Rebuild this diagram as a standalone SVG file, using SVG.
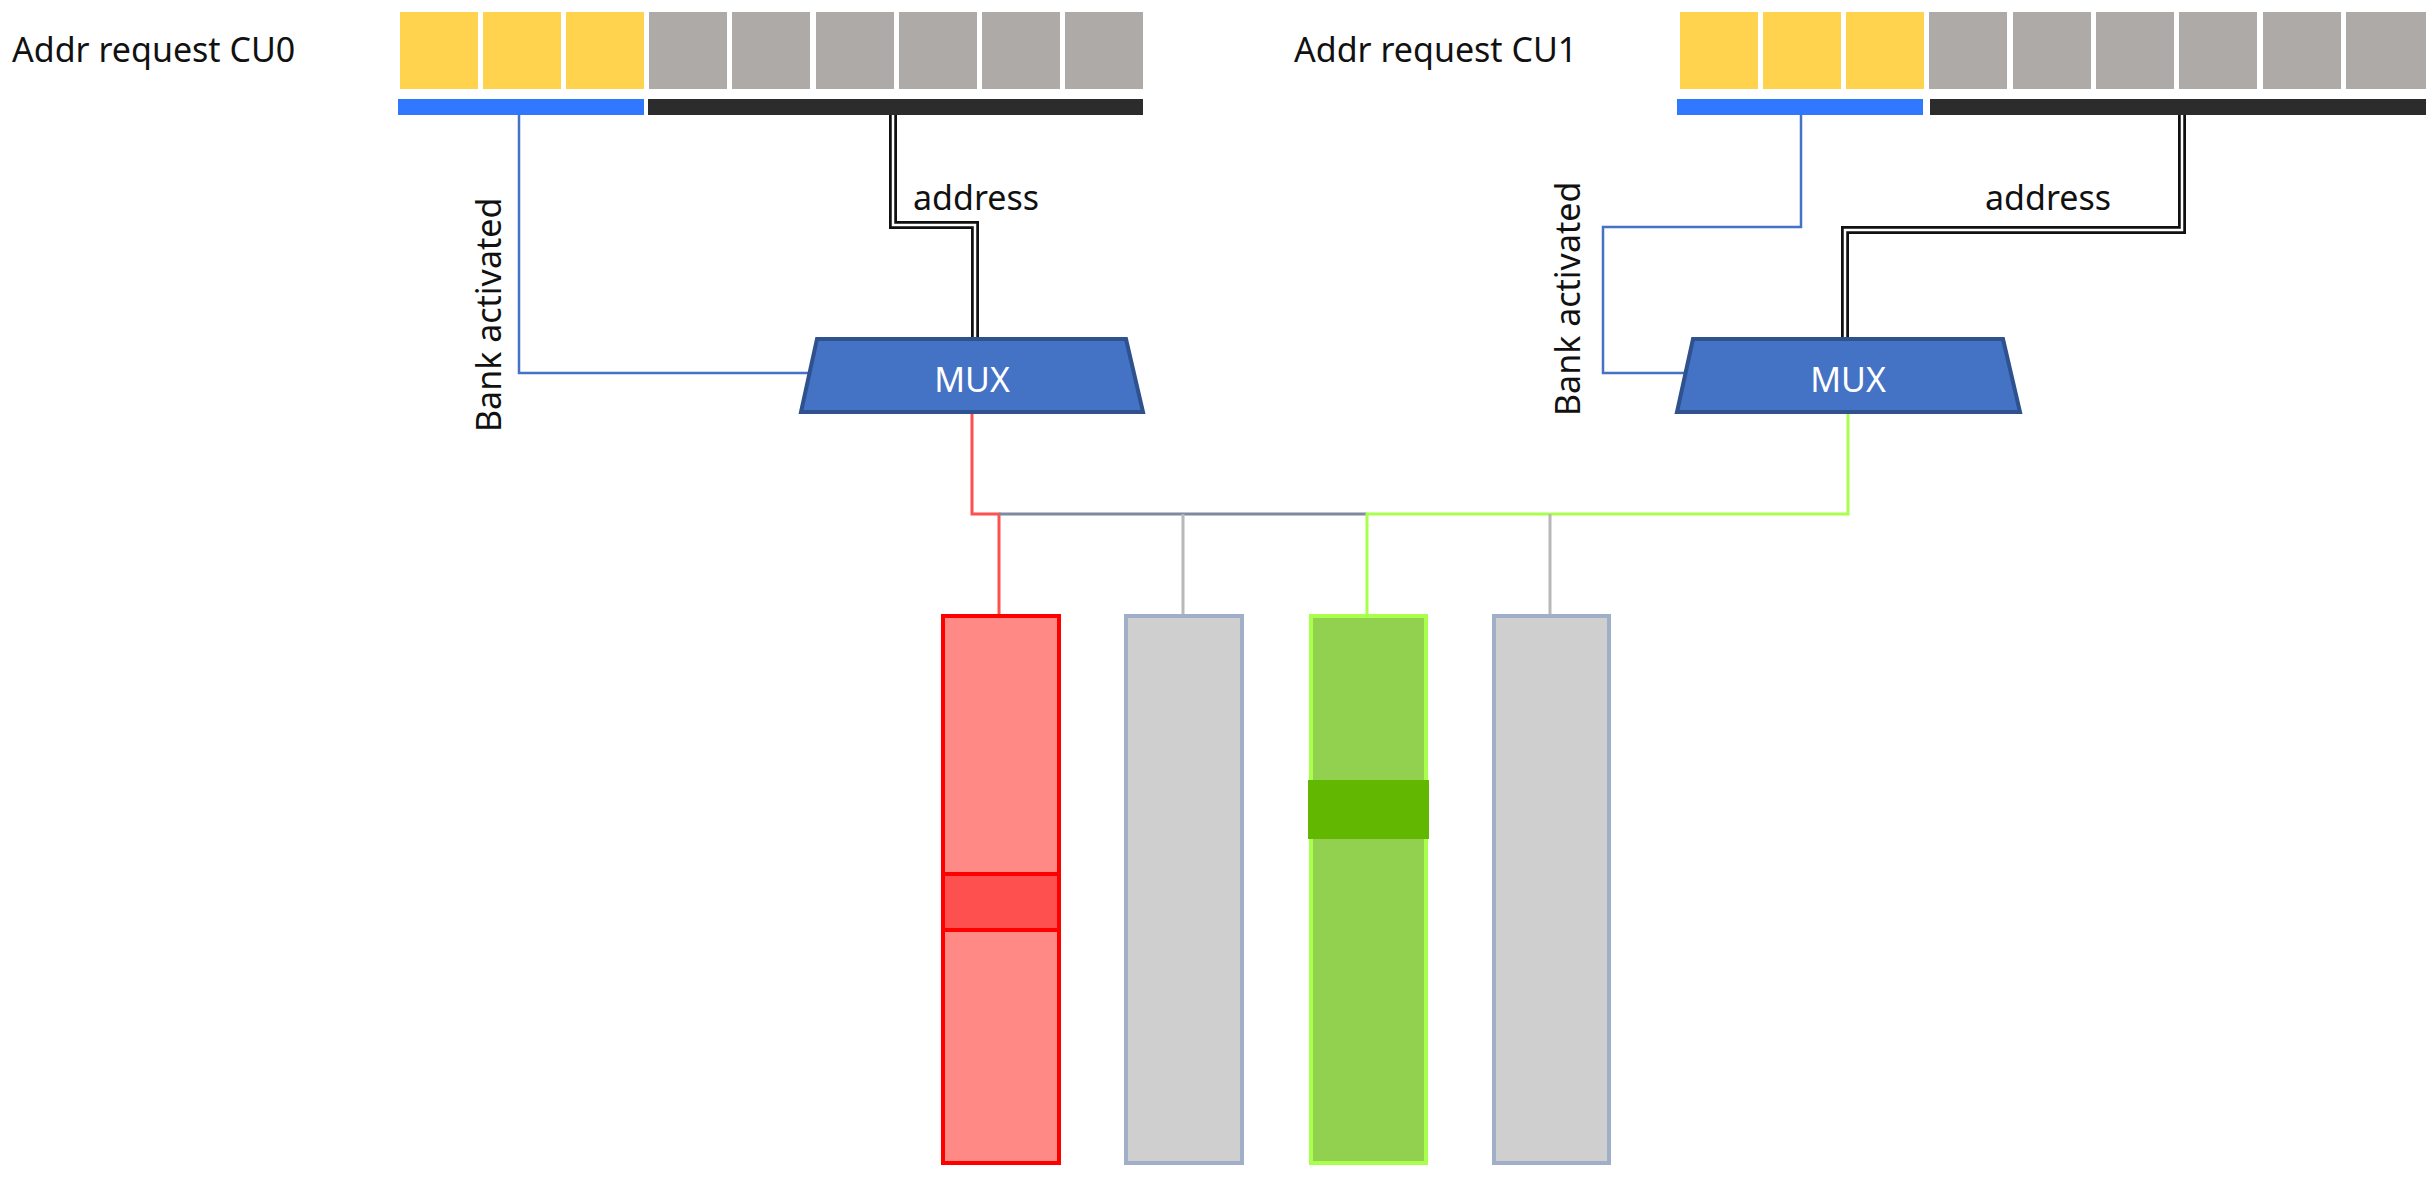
<svg xmlns="http://www.w3.org/2000/svg" width="2435" height="1184" viewBox="0 0 2435 1184">
<style>
.t{font-family:"Noto Sans","Liberation Sans",sans-serif;font-size:34px;fill:#111}
.y{fill:#FFD34D}.g{fill:#AEAAA8}
.blu{fill:none;stroke:#4472C4;stroke-width:2.5}
.ao{fill:none;stroke:#111;stroke-width:8}
.ai{fill:none;stroke:#fff;stroke-width:2.5}
.mux{fill:#4472C4;stroke:#2F528F;stroke-width:4}
.mt{font-family:"Noto Sans","Liberation Sans",sans-serif;font-size:34px;fill:#fff;text-anchor:middle}
.bank{fill:#CFCFCF;stroke:#9FAFC8;stroke-width:4}
</style>
<rect width="2435" height="1184" fill="#fff"/>
<g id="cu0">
<text class="t" x="12" y="62">Addr request CU0</text>
<rect class="y" x="400" y="12" width="78" height="77"/><rect class="y" x="483" y="12" width="78" height="77"/><rect class="y" x="566" y="12" width="78" height="77"/>
<rect class="g" x="649" y="12" width="78" height="77"/><rect class="g" x="732" y="12" width="78" height="77"/><rect class="g" x="816" y="12" width="78" height="77"/><rect class="g" x="899" y="12" width="78" height="77"/><rect class="g" x="982" y="12" width="78" height="77"/><rect class="g" x="1065" y="12" width="78" height="77"/>
<rect x="398" y="99" width="246" height="16" fill="#2F78FF"/>
<rect x="648" y="99" width="495" height="16" fill="#2C2C2C"/>
</g>
<g id="cu1">
<text class="t" x="1294" y="62">Addr request CU1</text>
<rect class="y" x="1680" y="12" width="78" height="77"/><rect class="y" x="1763" y="12" width="78" height="77"/><rect class="y" x="1846" y="12" width="78" height="77"/>
<rect class="g" x="1929" y="12" width="78" height="77"/><rect class="g" x="2013" y="12" width="78" height="77"/><rect class="g" x="2096" y="12" width="78" height="77"/><rect class="g" x="2179" y="12" width="78" height="77"/><rect class="g" x="2263" y="12" width="78" height="77"/><rect class="g" x="2346" y="12" width="80" height="77"/>
<rect x="1677" y="99" width="246" height="16" fill="#2F78FF"/>
<rect x="1930" y="99" width="496" height="16" fill="#2C2C2C"/>
</g>
<g id="connectors">
<path class="blu" d="M519 115V373H810"/>
<path class="ao" d="M893 115V225H975V339"/><path class="ai" d="M893 115V225H975V339"/>
<path class="blu" d="M1801 115V227H1603V373H1685"/>
<path class="ao" d="M2182 115V230H1845V339"/><path class="ai" d="M2182 115V230H1845V339"/>
<path d="M972 412V514H999V616" fill="none" stroke="#FF5050" stroke-width="3"/>
<path d="M999 514H1367" fill="none" stroke="#7F8AA0" stroke-width="3"/>
<path d="M1848 412V514H1367V616" fill="none" stroke="#A8FF4C" stroke-width="3"/>
<path d="M1183 514V616M1550 514V616" fill="none" stroke="#B8B8B8" stroke-width="3"/>
</g>
<g id="labels">
<text class="t" transform="translate(501 432) rotate(-90)">Bank activated</text>
<text class="t" x="913" y="210">address</text>
<text class="t" transform="translate(1580 416) rotate(-90)">Bank activated</text>
<text class="t" x="1985" y="210">address</text>
</g>
<g id="mux0"><polygon class="mux" points="817,339 1126,339 1143,412 801,412"/><text class="mt" x="972" y="392">MUX</text></g>
<g id="mux1"><polygon class="mux" points="1693,339 2003,339 2020,412 1677,412"/><text class="mt" x="1848" y="392">MUX</text></g>
<g id="bank0"><rect x="943" y="616" width="116" height="547" fill="#FF8A85" stroke="#FF0000" stroke-width="4"/><rect x="943" y="874" width="116" height="56" fill="#FF5050" stroke="#FF0000" stroke-width="4"/></g>
<g id="bank1"><rect class="bank" x="1126" y="616" width="116" height="547"/></g>
<g id="bank2"><rect x="1311" y="616" width="115" height="547" fill="#92D050" stroke="#A8FF4C" stroke-width="4"/><rect x="1308" y="780" width="121" height="59" fill="#62B800"/></g>
<g id="bank3"><rect class="bank" x="1494" y="616" width="115" height="547"/></g>
</svg>
